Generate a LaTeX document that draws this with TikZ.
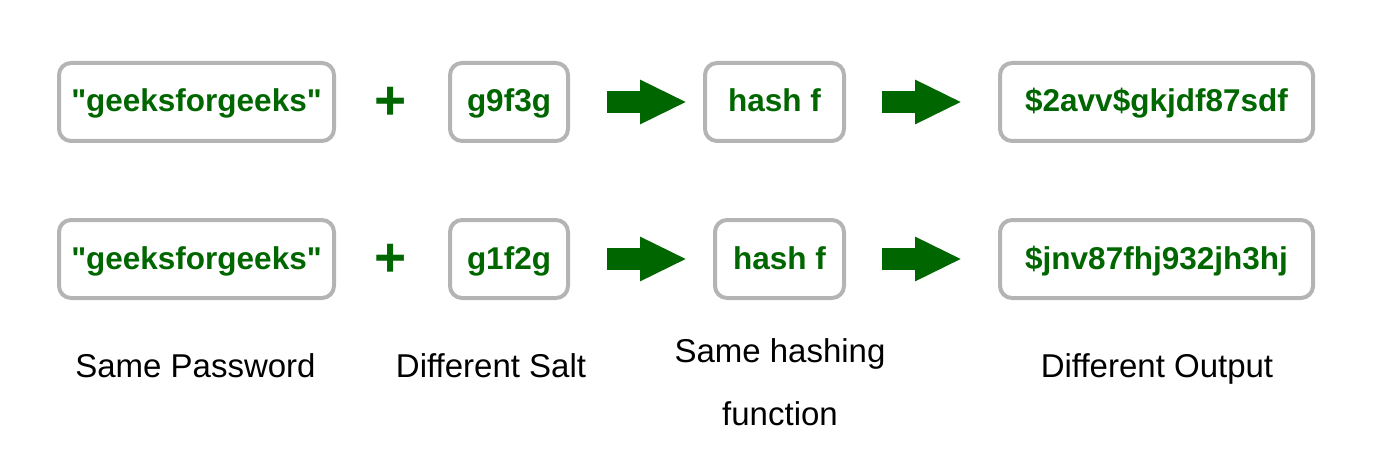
\documentclass[tikz,border=0pt]{standalone}
\usepackage{fontspec}
\setmainfont{Liberation Sans}
\newfontfamily\boxfont{Liberation Sans}
\usetikzlibrary{arrows.meta}
\definecolor{ggreen}{RGB}{0,102,0}
\definecolor{boxgray}{RGB}{180,180,180}

\begin{document}
\begin{tikzpicture}[x=1pt,y=-1pt]
    \tikzstyle{hashbox}=[draw=boxgray,line width=4pt,rounded corners=12pt,minimum height=78pt,inner sep=0pt,text height=20pt,text depth=0pt,text=ggreen,font=\boxfont\fontsize{31.5}{36}\selectfont\bfseries]
    \tikzstyle{plussign}=[text=ggreen,font=\boxfont\fontsize{55}{60}\selectfont\bfseries,inner sep=0pt]
    \tikzstyle{blockarrow}=[draw=ggreen,line width=22pt,-{Triangle[length=47pt,width=41pt]}]
    \tikzstyle{caption}=[font=\fontsize{33}{63}\selectfont,anchor=base,align=center,inner sep=0pt]
    \useasboundingbox (0,0) rectangle (1400,476);
    % first row
    \node[hashbox,minimum width=275pt] (pw1) at (196.5,102) {"geeksforgeeks"};
    \node[plussign] (plus1) at (391,103) {+};
    \node[hashbox,minimum width=118pt] (salt1) at (509,102) {g9f3g};
    \node[hashbox,minimum width=139pt] (hash1) at (774.5,102) {hash f};
    \node[hashbox,minimum width=313pt] (out1) at (1156.5,102) {\$2avv\$gkjdf87sdf};
    \draw[blockarrow] ([xshift=37pt]salt1.east) -- ([xshift=-16pt]hash1.west);
    \draw[blockarrow] ([xshift=36pt]hash1.east) -- ([xshift=-36pt]out1.west);
    % second row
    \node[hashbox,minimum width=275pt] (pw2) at (196.5,259) {"geeksforgeeks"};
    \node[plussign] (plus2) at (391,260) {+};
    \node[hashbox,minimum width=118pt] (salt2) at (509,259) {g1f2g};
    \node[hashbox,minimum width=129pt] (hash2) at (779.5,259) {hash f};
    \node[hashbox,minimum width=313pt] (out2) at (1156.5,259) {\$jnv87fhj932jh3hj};
    \draw[blockarrow] ([xshift=37pt]salt2.east) -- ([xshift=-26pt]hash2.west);
    \draw[blockarrow] ([xshift=36pt]hash2.east) -- ([xshift=-36pt]out2.west);
    % captions
    \node[caption] (pwlbl) at (195.5,377) {Same Password};
    \node[caption] (saltlbl) at (491,377) {Different Salt};
    \node[caption] (hashlbl) at (780,425) {Same hashing\\function};
    \node[caption] (outlbl) at (1157,377) {Different Output};
\end{tikzpicture}
\end{document}
